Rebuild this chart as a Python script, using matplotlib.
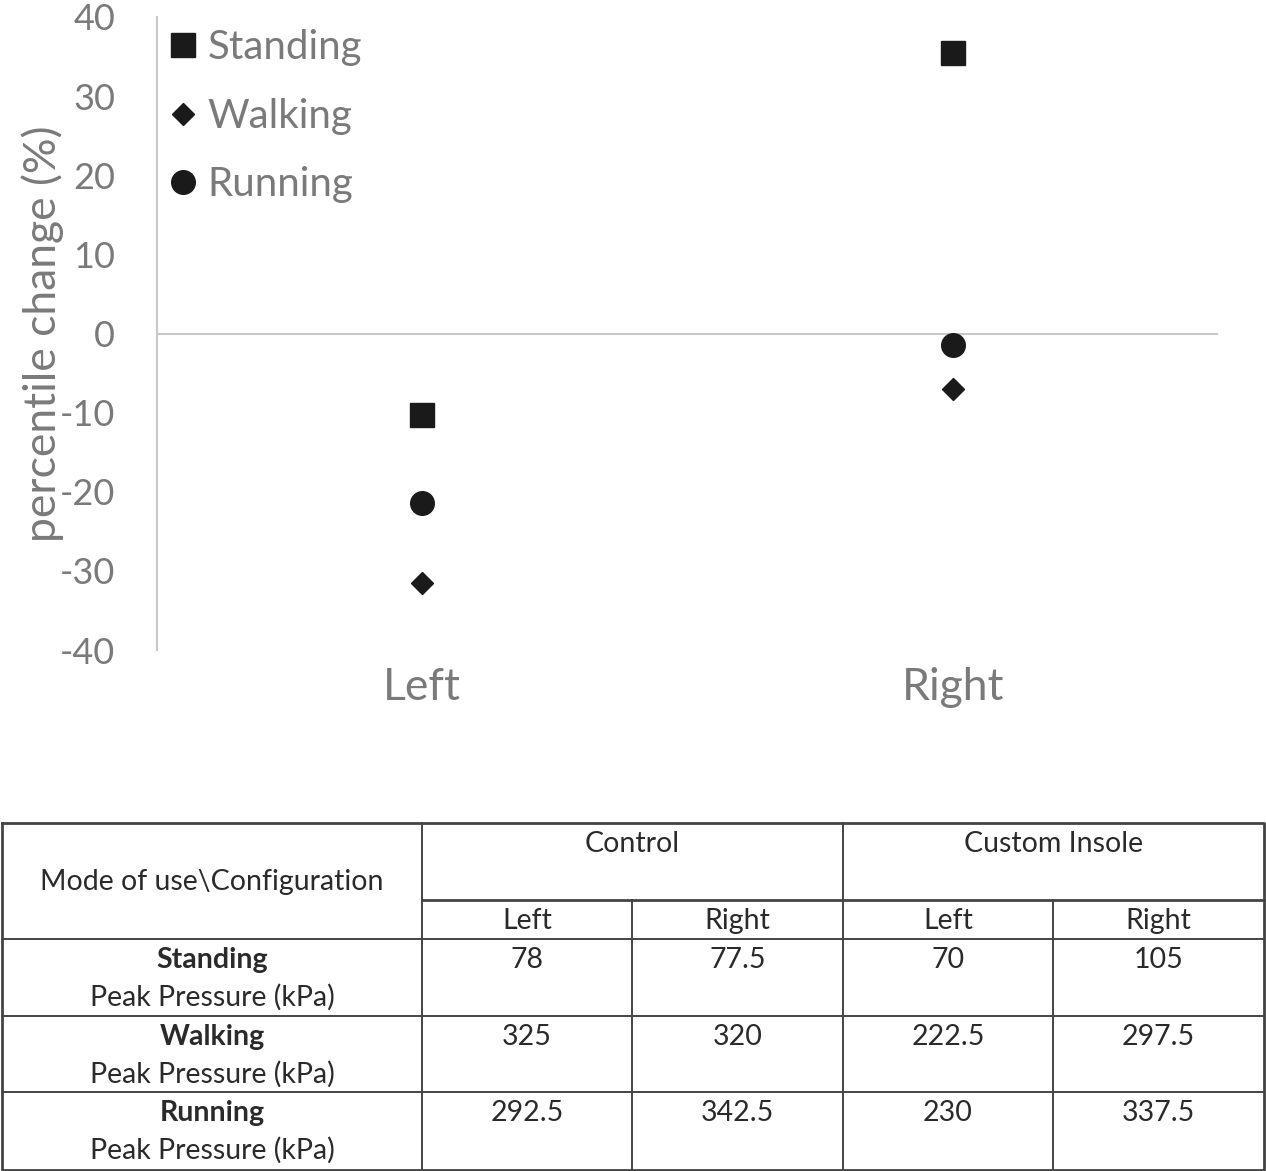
import numpy as np
import matplotlib.pyplot as plt

plt.rcParams['font.family'] = ['Lato', 'DejaVu Sans']
plt.rcParams['axes.unicode_minus'] = False

# percentile change of custom insole vs control
feet = ["Left", "Right"]
standing = [-10.3, 35.5]
walking = [-31.5, -7.0]
running = [-21.4, -1.5]

# peak pressure table (kPa)
modes = ["Standing", "Walking", "Running"]
configs = ["Control", "Custom Insole"]
sub_cols = ["Left", "Right", "Left", "Right"]
pressure = [["78", "77.5", "70", "105"],
            ["325", "320", "222.5", "297.5"],
            ["292.5", "342.5", "230", "337.5"]]

W, H = 1266, 1171
fig = plt.figure(figsize=(W / 100, H / 100), dpi=100)

gray_txt = "#7a7a7a"
axis_col = "#c9c9c9"

# ---- scatter chart ----
ax = fig.add_axes([157 / W, 1 - 650 / H, (1218 - 157) / W, (650 - 17) / H])
x = np.arange(len(feet))
ax.plot(x, standing, 's', color="#1a1a1a", markersize=17, label="Standing")
ax.plot(x, walking, 'D', color="#1a1a1a", markersize=11, label="Walking")
ax.plot(x, running, 'o', color="#1a1a1a", markersize=17, label="Running")
ax.axhline(0, color=axis_col, lw=1.5, zorder=0)

ax.set_xlim(-0.5, 1.5)
ax.set_ylim(-40, 40)
ax.set_yticks(np.arange(-40, 41, 10))
ax.set_xticks(x)
ax.set_xticklabels(feet)
for s in ["top", "right", "bottom"]:
    ax.spines[s].set_visible(False)
ax.spines["left"].set_color(axis_col)
ax.spines["left"].set_linewidth(1.5)
ax.tick_params(axis="y", length=0, pad=30, labelsize=26, labelcolor=gray_txt)
ax.tick_params(axis="x", length=0, pad=12, labelsize=32, labelcolor=gray_txt)
ax.set_ylabel("percentile change (%)", fontsize=32, color=gray_txt)
ax.yaxis.set_label_coords(-0.088, 0.5)

ax.legend(loc="upper left", bbox_to_anchor=(-0.013, 1.025), frameon=False,
          fontsize=29, labelcolor=gray_txt, handlelength=0.6,
          handletextpad=0.3, labelspacing=0.78, borderaxespad=0.3)

# ---- table ----
tb = fig.add_axes([0, 0, 1, 1])
tb.set_xlim(0, W)
tb.set_ylim(H, 0)
tb.axis("off")

col_edges = [2, 422, 632, 843, 1053, 1264]
row_edges = [823, 900, 939, 1016, 1092, 1170]
lc = "#444444"
lw = 1.4

# outer border
tb.plot([2, 1264, 1264, 2, 2], [823, 823, 1170, 1170, 823], color=lc, lw=2)
# vertical lines
tb.plot([422, 422], [823, 1170], color=lc, lw=lw)
tb.plot([843, 843], [823, 1170], color=lc, lw=lw)
tb.plot([632, 632], [900, 1170], color=lc, lw=lw)
tb.plot([1053, 1053], [900, 1170], color=lc, lw=lw)
# horizontal lines
tb.plot([422, 1264], [900, 900], color=lc, lw=2)
for y in row_edges[2:-1]:
    tb.plot([2, 1264], [y, y], color=lc, lw=lw)

tc = "#2a2a2a"
fs = 20.5
tb.text(212, 882, "Mode of use\\Configuration", ha="center", va="center", fontsize=fs, color=tc)
for i, c in enumerate(configs):
    cx = (col_edges[1 + 2 * i] + col_edges[3 + 2 * i]) / 2
    tb.text(cx, 844, c, ha="center", va="center", fontsize=fs, color=tc)
for j, c in enumerate(sub_cols):
    cx = (col_edges[1 + j] + col_edges[2 + j]) / 2
    tb.text(cx, 921, c, ha="center", va="center", fontsize=fs, color=tc)
for i, m in enumerate(modes):
    top = row_edges[2 + i]
    tb.text(212, top + 21, m, ha="center", va="center", fontsize=fs, color=tc, fontweight="bold")
    tb.text(212, top + 58, "Peak Pressure (kPa)", ha="center", va="center", fontsize=fs, color=tc)
    for j, v in enumerate(pressure[i]):
        cx = (col_edges[1 + j] + col_edges[2 + j]) / 2
        tb.text(cx, top + 21, v, ha="center", va="center", fontsize=fs, color=tc)

fig.savefig("out.png", dpi=100)
